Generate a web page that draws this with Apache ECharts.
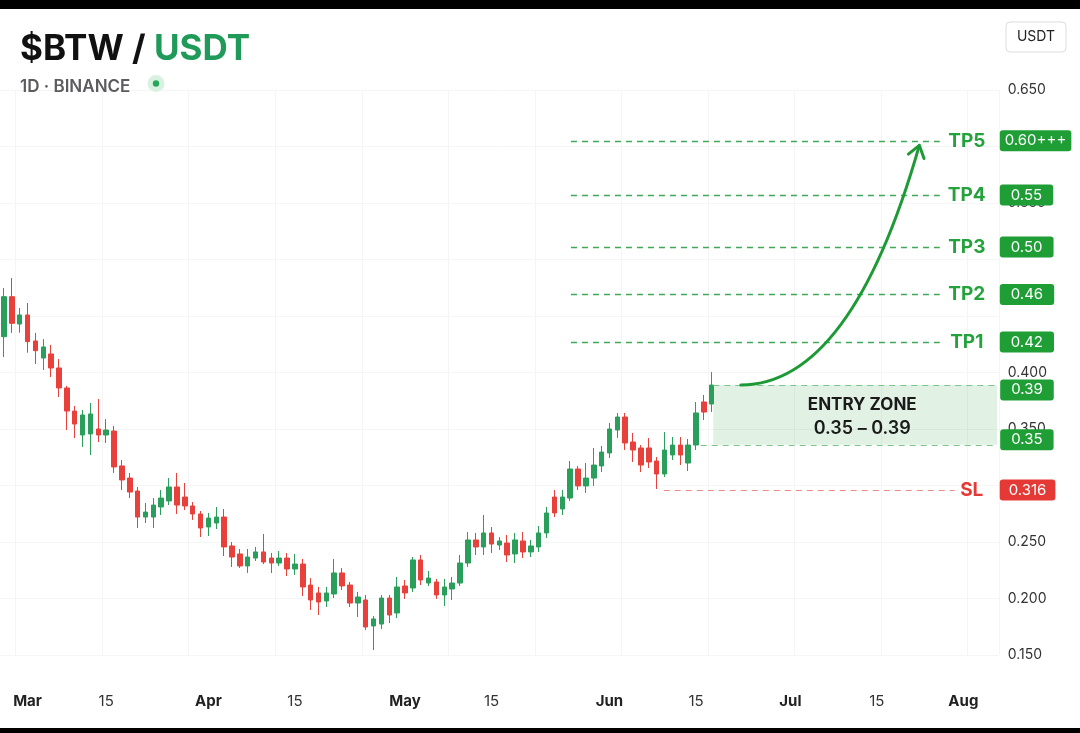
<!DOCTYPE html>
<html>
<head>
<meta charset="utf-8">
<script src="https://cdn.jsdelivr.net/npm/echarts@6/dist/echarts.min.js"></script>
<style>
html,body{margin:0;padding:0;background:#fff;}
#c{width:1080px;height:733px;}
</style>
</head>
<body>
<div id="c"></div>
<script>
// ---------- DATA ----------
const opens = [0.4317,0.4671,0.4429,0.4509,0.4279,0.4128,0.4164,0.4040,0.3863,0.3659,
0.3447,0.3456,0.3500,0.3447,0.3482,0.3173,0.3066,0.2951,0.2721,0.2721,
0.2810,0.2863,0.2987,0.2898,0.2819,0.2748,0.2633,0.2668,0.2721,0.2465,
0.2394,0.2288,0.2358,0.2412,0.2358,0.2314,0.2358,0.2261,0.2305,0.2119,
0.2049,0.1978,0.2040,0.2226,0.2119,0.1960,0.1987,0.1757,0.1774,0.2004,
0.1872,0.2111,0.2093,0.2341,0.2137,0.2146,0.2031,0.2084,0.2137,0.2314,
0.2518,0.2456,0.2580,0.2473,0.2491,0.2394,0.2509,0.2412,0.2456,0.2580,
0.2898,0.2792,0.2889,0.3146,0.2996,0.3066,0.3173,0.3288,0.3491,0.3606,
0.3385,0.3332,0.3332,0.3217,0.3102,0.3270,0.3358,0.3199,0.3358,0.3739,0.3721];
const closes = [0.4671,0.4435,0.4509,0.4273,0.4193,0.4226,0.4040,0.3863,0.3659,0.3544,
0.3624,0.3633,0.3447,0.3491,0.3164,0.3049,0.2942,0.2721,0.2765,0.2827,
0.2889,0.2987,0.2827,0.2819,0.2748,0.2624,0.2712,0.2721,0.2456,0.2367,
0.2288,0.2367,0.2412,0.2323,0.2314,0.2358,0.2261,0.2305,0.2102,0.1987,
0.1969,0.2049,0.2226,0.2111,0.1960,0.2013,0.1748,0.1819,0.2004,0.1854,
0.2102,0.2049,0.2341,0.2164,0.2181,0.2031,0.2102,0.2137,0.2314,0.2518,
0.2456,0.2580,0.2482,0.2509,0.2385,0.2518,0.2412,0.2465,0.2580,0.2757,
0.2757,0.2898,0.3146,0.2996,0.3066,0.3181,0.3296,0.3500,0.3606,0.3376,
0.3314,0.3181,0.3208,0.3102,0.3314,0.3358,0.3270,0.3358,0.3642,0.3650,0.3889];
const lows = [0.4137,0.4350,0.4352,0.4175,0.4075,0.4022,0.3960,0.3783,0.3491,0.3420,
0.3341,0.3270,0.3385,0.3376,0.3111,0.2960,0.2889,0.2624,0.2668,0.2624,
0.2739,0.2827,0.2748,0.2783,0.2695,0.2544,0.2553,0.2615,0.2376,0.2279,
0.2270,0.2226,0.2332,0.2305,0.2226,0.2288,0.2199,0.2208,0.2022,0.1898,
0.1854,0.1925,0.2004,0.2075,0.1925,0.1836,0.1721,0.1544,0.1730,0.1783,
0.1827,0.1996,0.2058,0.2119,0.2111,0.1996,0.1934,0.1987,0.2111,0.2279,
0.2385,0.2385,0.2403,0.2429,0.2323,0.2314,0.2358,0.2367,0.2412,0.2535,
0.2721,0.2739,0.2863,0.2960,0.2934,0.2996,0.3119,0.3243,0.3420,0.3314,
0.3208,0.3119,0.3155,0.2969,0.3075,0.3226,0.3181,0.3128,0.3314,0.3580,0.3650];
const highs = [0.4748,0.4836,0.4571,0.4615,0.4350,0.4296,0.4243,0.4119,0.3881,0.3704,
0.3668,0.3730,0.3765,0.3588,0.3527,0.3226,0.3111,0.2987,0.2845,0.2889,
0.2960,0.3066,0.3111,0.3022,0.2854,0.2774,0.2757,0.2810,0.2792,0.2500,
0.2438,0.2438,0.2456,0.2571,0.2403,0.2420,0.2403,0.2394,0.2350,0.2181,
0.2102,0.2102,0.2350,0.2270,0.2146,0.2058,0.2031,0.1845,0.2031,0.2031,
0.2190,0.2164,0.2367,0.2385,0.2243,0.2173,0.2173,0.2190,0.2385,0.2588,
0.2580,0.2739,0.2633,0.2544,0.2562,0.2580,0.2588,0.2518,0.2642,0.2810,
0.2960,0.2960,0.3217,0.3173,0.3199,0.3332,0.3350,0.3553,0.3642,0.3642,
0.3465,0.3358,0.3420,0.3252,0.3473,0.3429,0.3429,0.3412,0.3739,0.3801,0.4004];

const xTickLabels = ['Mar','15','Apr','15','May','15','Jun','15','Jul','15','Aug'];
const xTickSlots  = [3, 13, 26, 37, 51, 62, 77, 88, 100, 111, 122];
const yTickLabels = ['0.150','0.200','0.250','0.350','0.400','0.550','0.600','0.650'];

const tpNames  = ['TP1','TP2','TP3','TP4','TP5'];
const tpLevels = [0.427, 0.469, 0.511, 0.557, 0.605];
const tpTexts  = ['0.42','0.46','0.50','0.55','0.60+++'];
const entryLevels = [0.336, 0.389];
const entryTexts  = ['0.35','0.39'];
const entryZoneText = ['ENTRY ZONE','0.35 – 0.39'];
const slName = 'SL';
const slLevel = 0.296;
const slText = '0.316';
const arrowStart   = [93.7, 0.389];
const arrowControl = [107.7, 0.389];
const arrowEnd     = [116.4, 0.601];

// ---------- STYLE ----------
const FONT = 'Inter, Roboto, "Noto Sans", sans-serif';
const UP = '#2a9f5c', DOWN = '#e8413c';
const TPG = '#24a23c', BADGE_G = '#1f9e36', RED = '#e53935';
const SLOTS = 127, SLOT_W = 7.88, GRID_LEFT = -2;

const slotIds = Array.from({length: SLOTS}, (_, i) => 's' + i);
const candleData = opens.map((o, i) => [o, closes[i], lows[i], highs[i]]);

const badgeRich = (bg) => ({
  n: {fontFamily: FONT, fontSize: 19, fontWeight: 700, color: TPG, width: 50, align: 'center'},
  s: {width: 8, fontSize: 10},
  b: {fontFamily: FONT, fontSize: 15, lineHeight: 14, color: '#fff', backgroundColor: bg,
      padding: [3, 11, 3, 11], borderRadius: 3}
});

const tpLines = tpNames.map((nm, i) => {
  const rich = badgeRich(BADGE_G);
  if (tpTexts[i].length > 5) rich.b.padding = [3, 5, 3, 5];
  return [{
    coord: [72.1, tpLevels[i]],
    lineStyle: {color: '#3fa957', width: 1.3, type: [6, 5]},
    label: {show: true, position: 'end', distance: 2, formatter: '{n|' + nm + '}{s| }{b|' + tpTexts[i] + '}', rich: rich}
  }, {coord: [119.0, tpLevels[i]]}];
});

const entryLines = entryLevels.map((lv, i) => [{
  coord: [i === 0 ? 88.6 : 90.2, lv],
  lineStyle: {color: '#7cc48a', width: 1.2, type: [6, 5]},
  label: {show: true, position: 'end', distance: 3,
          padding: i === 0 ? [0, 0, 10, 0] : [10, 0, 0, 0],
          formatter: '{b|' + entryTexts[i] + '}', rich: badgeRich(BADGE_G)}
}, {coord: [126.3, lv]}]);

const slRich = badgeRich(RED);
slRich.n = {fontFamily: FONT, fontSize: 19, fontWeight: 700, color: RED, width: 30, align: 'center'};
slRich.s = {width: 13, fontSize: 10};
slRich.b.padding = [3, 9, 3, 9];
const slLine = [{
  coord: [83.9, slLevel],
  lineStyle: {color: '#ee8a88', width: 1.2, type: [6, 5]},
  label: {show: true, position: 'end', distance: 2, formatter: '{n|' + slName + '}{s| }{b|' + slText + '}', rich: slRich}
}, {coord: [120.9, slLevel]}];

const chart = echarts.init(document.getElementById('c'));
const option = {
  animation: false,
  backgroundColor: '#ffffff',
  textStyle: {fontFamily: FONT},
  title: {
    left: 20, top: 29, padding: 0, itemGap: 13,
    text: '{a|$BTW / }{b|USDT}',
    textStyle: {rich: {
      a: {fontFamily: FONT, fontSize: 35, fontWeight: 700, color: '#111111', lineHeight: 40},
      b: {fontFamily: FONT, fontSize: 35, fontWeight: 700, color: '#1f9a58', lineHeight: 40}
    }},
    subtext: '1D · BINANCE',
    subtextStyle: {fontFamily: FONT, fontSize: 17, fontWeight: 600, color: '#5b5b60', lineHeight: 20}
  },
  graphic: [
    {type: 'rect', left: 0, top: 0, shape: {width: 1080, height: 9}, style: {fill: '#000'}, z: 100},
    {type: 'rect', left: 0, top: 728, shape: {width: 1080, height: 5}, style: {fill: '#000'}, z: 100},
    {type: 'circle', shape: {cx: 156, cy: 83.5, r: 8.5}, style: {fill: '#d9f1df'}, z: 10},
    {type: 'circle', shape: {cx: 156, cy: 83.5, r: 3.2}, style: {fill: '#2aa65a'}, z: 11},
    {type: 'rect', shape: {x: 1006, y: 22, width: 60, height: 30, r: 4},
     style: {fill: '#fff', stroke: '#dddddd', lineWidth: 1}, z: 10},
    {type: 'text', x: 1036, y: 37, style: {text: 'USDT', fontFamily: FONT, fontSize: 14, fill: '#222',
      align: 'center', verticalAlign: 'middle'}, z: 11}
  ],
  grid: {left: GRID_LEFT, right: 1080 - (GRID_LEFT + SLOTS * SLOT_W), top: 90, bottom: 78},
  xAxis: [{
    type: 'category', data: slotIds, boundaryGap: true,
    axisLine: {show: false}, axisTick: {show: false},
    axisLabel: {
      interval: 0, margin: 39,
      formatter: (v, idx) => {
        const k = xTickSlots.indexOf(idx);
        if (k < 0) return '';
        const t = xTickLabels[k];
        return /^\d+$/.test(t) ? '{d|' + t + '}' : '{m|' + t + '}';
      },
      rich: {
        m: {fontFamily: FONT, fontSize: 15, fontWeight: 700, color: '#222'},
        d: {fontFamily: FONT, fontSize: 15, fontWeight: 400, color: '#333'}
      }
    },
    splitLine: {show: true, interval: (idx) => idx > 0 && idx % 11 === 2, lineStyle: {color: '#f5f5f5', width: 1}}
  }, {
    type: 'value', min: -0.5, max: SLOTS - 0.5, show: false
  }],
  yAxis: {
    type: 'value', position: 'right', min: 0.15, max: 0.65, interval: 0.05,
    axisLine: {show: false}, axisTick: {show: false},
    axisLabel: {
      margin: 9, color: '#333', fontSize: 14, fontFamily: FONT,
      formatter: v => { const s = v.toFixed(3); return yTickLabels.indexOf(s) >= 0 ? s : ''; }
    },
    splitLine: {show: true, lineStyle: {color: '#f5f5f5', width: 1}}
  },
  series: [{
    type: 'candlestick', name: '$BTW/USDT', xAxisIndex: 0, yAxisIndex: 0,
    data: candleData, barWidth: 5,
    itemStyle: {color: UP, color0: DOWN, borderColor: UP, borderColor0: DOWN, borderWidth: 1}
  }, {
    type: 'custom', xAxisIndex: 1, yAxisIndex: 0, z: 6, silent: true,
    data: [[arrowStart[0], arrowStart[1], arrowControl[0], arrowControl[1], arrowEnd[0], arrowEnd[1]]],
    encode: {x: [0, 2, 4], y: [1, 3, 5]},
    renderItem: (params, api) => {
      const p0 = api.coord([api.value(0), api.value(1)]);
      const c = api.coord([api.value(2), api.value(3)]);
      const p1 = api.coord([api.value(4), api.value(5)]);
      let dx = p1[0] - c[0], dy = p1[1] - c[1];
      const len = Math.sqrt(dx * dx + dy * dy); dx /= len; dy /= len;
      const L = 14, ang = 0.62;
      const rot = (a) => [p1[0] - L * (dx * Math.cos(a) - dy * Math.sin(a)),
                          p1[1] - L * (dx * Math.sin(a) + dy * Math.cos(a))];
      return {type: 'group', children: [
        {type: 'bezierCurve', shape: {x1: p0[0], y1: p0[1], cpx1: c[0], cpy1: c[1], x2: p1[0], y2: p1[1]},
         style: {stroke: '#1d9a36', lineWidth: 3, fill: null, lineCap: 'round'}},
        {type: 'polyline', shape: {points: [rot(ang), p1, rot(-ang)]},
         style: {stroke: '#1d9a36', lineWidth: 3, fill: null, lineCap: 'round', lineJoin: 'round'}}
      ]};
    },
    markArea: {
      silent: true,
      itemStyle: {color: 'rgba(76,175,96,0.17)'},
      label: {show: true, position: 'inside', offset: [7, 2],
        formatter: '{t|' + entryZoneText[0] + '}\n{v|' + entryZoneText[1] + '}',
        rich: {
          t: {fontFamily: FONT, fontSize: 17, fontWeight: 700, color: '#1a1a1a', lineHeight: 23},
          v: {fontFamily: FONT, fontSize: 18, fontWeight: 600, color: '#1a1a1a', lineHeight: 23}
        }},
      data: [[{coord: [90.2, entryLevels[1]]}, {coord: [126.3, entryLevels[0]]}]]
    },
    markLine: {
      silent: true, symbol: ['none', 'none'], animation: false,
      data: tpLines.concat(entryLines).concat([slLine])
    }
  }]
};
chart.setOption(option);
</script>
</body>
</html>
